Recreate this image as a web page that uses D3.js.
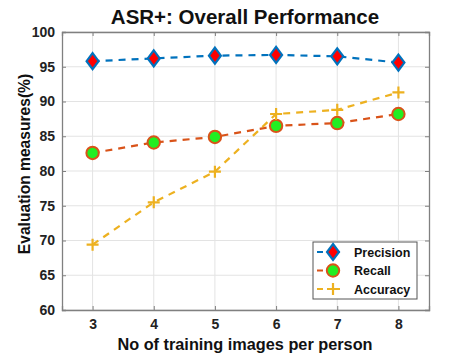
<!DOCTYPE html>
<html><head><meta charset="utf-8">
<script src="https://cdn.jsdelivr.net/npm/d3@7"></script>
<style>body{margin:0;background:#fff}svg{display:block;font-family:"Liberation Sans",Arial,sans-serif}</style>
</head><body><svg id="c" width="474" height="355"></svg>
<script>
const xValues = [3, 4, 5, 6, 7, 8];
const precision = [95.8, 96.2, 96.6, 96.7, 96.5, 95.6];
const recall = [82.6, 84.1, 84.9, 86.5, 86.9, 88.2];
const accuracy = [69.4, 75.5, 79.9, 88.2, 88.8, 91.3];
const yTicks = [60, 65, 70, 75, 80, 85, 90, 95, 100];
const seriesNames = ["Precision", "Recall", "Accuracy"];

const svg = d3.select("#c");
const L = 62, R = 429, T = 32, B = 310;
const x = d3.scaleLinear().domain([2.5, 8.5]).range([L, R]);
const y = d3.scaleLinear().domain([60, 100]).range([B, T]);

// grid
svg.append("g").selectAll("line.gx").data(xValues).join("line")
  .attr("x1", d => x(d)).attr("x2", d => x(d)).attr("y1", T).attr("y2", B)
  .attr("stroke", "#e3e3e3").attr("stroke-width", 1);
svg.append("g").selectAll("line.gy").data(yTicks).join("line")
  .attr("y1", d => y(d)).attr("y2", d => y(d)).attr("x1", L).attr("x2", R)
  .attr("stroke", "#e3e3e3").attr("stroke-width", 1);

// axes
const ax = svg.append("g").attr("transform", `translate(0,${B})`)
  .call(d3.axisBottom(x).tickValues(xValues).tickFormat(d3.format("d")).tickSize(-4).tickPadding(9));
const ay = svg.append("g").attr("transform", `translate(${L},0)`)
  .call(d3.axisLeft(y).tickValues(yTicks).tickFormat(d3.format("d")).tickSize(-4).tickPadding(7));
const axT = svg.append("g").attr("transform", `translate(0,${T})`)
  .call(d3.axisTop(x).tickValues(xValues).tickSize(-4).tickFormat(""));
const ayR = svg.append("g").attr("transform", `translate(${R},0)`)
  .call(d3.axisRight(y).tickValues(yTicks).tickSize(-4).tickFormat(""));
[ax, ay, axT, ayR].forEach(g => {
  g.select(".domain").attr("stroke", "#808080").attr("stroke-width", 1.3);
  g.selectAll(".tick line").attr("stroke", "#808080");
  g.selectAll(".tick text").attr("fill", "#222").attr("font-size", 14).attr("font-weight", "bold")
    .attr("font-family", "Liberation Sans, Arial, sans-serif");
});

const colors = ["#0072BD", "#D95319", "#EDB120"];
const data = [precision, recall, accuracy];
const line = d3.line().x((d, i) => x(xValues[i])).y(d => y(d));

data.forEach((vals, k) => {
  svg.append("path").datum(vals).attr("d", line).attr("fill", "none")
    .attr("stroke", colors[k]).attr("stroke-width", 2.2).attr("stroke-dasharray", "7,6");
});

function drawMarker(g, k, cx, cy) {
  if (k === 0) {
    g.append("path").attr("d", `M${cx},${cy-8}L${cx+6},${cy}L${cx},${cy+8}L${cx-6},${cy}Z`)
      .attr("fill", "#ff0000").attr("stroke", colors[0]).attr("stroke-width", 2.2);
  } else if (k === 1) {
    g.append("circle").attr("cx", cx).attr("cy", cy).attr("r", 6.2)
      .attr("fill", "#22ee22").attr("stroke", colors[1]).attr("stroke-width", 2);
  } else {
    g.append("path").attr("d", `M${cx-6},${cy}H${cx+6}M${cx},${cy-6}V${cy+6}`)
      .attr("stroke", colors[2]).attr("stroke-width", 2.2).attr("fill", "none");
  }
}
data.forEach((vals, k) => {
  const g = svg.append("g");
  vals.forEach((v, i) => drawMarker(g, k, x(xValues[i]), y(v)));
});

// legend
const lg = svg.append("g");
lg.append("rect").attr("x", 313).attr("y", 242).attr("width", 104).attr("height", 57)
  .attr("fill", "#fff").attr("stroke", "#555").attr("stroke-width", 1);
seriesNames.forEach((n, k) => {
  const yy = 252 + k * 18.5;
  lg.append("line").attr("x1", 317).attr("x2", 340).attr("y1", yy).attr("y2", yy)
    .attr("stroke", colors[k]).attr("stroke-width", 2.2).attr("stroke-dasharray", "6,5");
  drawMarker(lg, k, 333, yy);
  lg.append("text").attr("x", 354).attr("y", yy + 4.5).text(n)
    .attr("font-size", 12.5).attr("font-weight", "bold").attr("fill", "#111");
});

// title & labels
svg.append("text").attr("x", 245).attr("y", 24).attr("text-anchor", "middle")
  .attr("font-size", 20.5).attr("font-weight", "bold").attr("fill", "#111").text("ASR+: Overall Performance");
svg.append("text").attr("x", 245).attr("y", 350).attr("text-anchor", "middle")
  .attr("font-size", 16.3).attr("font-weight", "bold").attr("fill", "#111").text("No of training images per person");
svg.append("text").attr("transform", "translate(30,164) rotate(-90)").attr("text-anchor", "middle")
  .attr("font-size", 15.6).attr("font-weight", "bold").attr("fill", "#111").text("Evaluation measures(%)");
</script></body></html>
